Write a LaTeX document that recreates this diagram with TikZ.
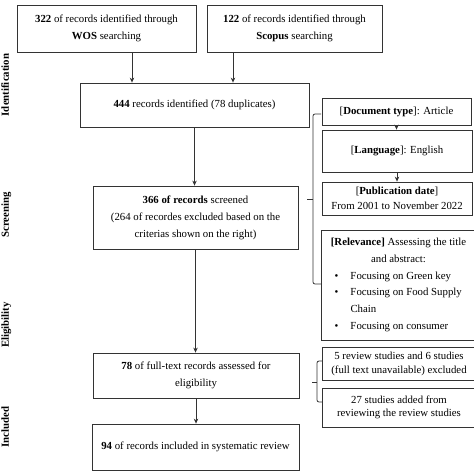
\documentclass[tikz,border=0pt]{standalone}
\usepackage{fontspec}
\setmainfont{Liberation Serif}
\usetikzlibrary{arrows.meta}
\tikzset{
  x=1pt, y=-1pt,
  ln/.style={draw=black!80, line width=0.8pt},
  box/.style={ln, rectangle, inner sep=0pt, align=center, font=\fontsize{10.8}{17}\selectfont},
  arr/.style={ln, -{Stealth[length=5pt,width=4.5pt]}},
  brk/.style={ln, rounded corners=2pt},
  phase/.style={font=\fontsize{10.8}{13}\selectfont\bfseries, rotate=90, anchor=base, inner sep=0pt}
}
\newcommand{\bitem}[1]{\par\hangindent=27pt\hangafter=0\noindent\llap{\makebox[16pt][l]{\textbullet}}#1}
\begin{document}
\begin{tikzpicture}
\useasboundingbox (0,0) rectangle (474,474);
\clip (0,0) rectangle (474,474);
% phase labels
\node[phase] (pi) at (9,85) {Identification};
\node[phase] (ps) at (9,215) {Screening};
\node[phase] (pe) at (9,325) {Eligibility};
\node[phase] (pn) at (9,427) {Included};
% main column
\node[box, minimum width=179pt, minimum height=47pt] (wos) at (106.5,28.5)
  {\textbf{322} of records identified through\\\textbf{WOS} searching};
\node[box, minimum width=175pt, minimum height=47pt] (sco) at (294.5,28.5)
  {\textbf{122} of records identified through\\\textbf{Scopus} searching};
\node[box, minimum width=229pt, minimum height=44pt] (idf) at (194.5,105)
  {\textbf{444} records identified (78 duplicates)};
\node[box, minimum width=205pt, minimum height=63pt] (scr) at (195.5,217.5)
  {\textbf{366 of records} screened\\(264 of recordes excluded based on the\\criterias shown on the right)};
\node[box, minimum width=206pt, minimum height=45pt] (elg) at (196,375.5)
  {\textbf{78} of full-text records assessed for\\eligibility};
\node[box, minimum width=207pt, minimum height=46pt] (inc) at (195.5,447)
  {\textbf{94} of records included in systematic review};
% right column
\node[box, minimum width=149pt, minimum height=27pt] (doc) at (396.5,111.5)
  {[\textbf{Document type}]: Article};
\node[box, minimum width=150pt, minimum height=42pt] (lan) at (397,151)
  {[\textbf{Language}]: English};
\node[box, minimum width=150pt, minimum height=33pt, font=\fontsize{10.8}{15}\selectfont] (pub) at (397,198.5)
  {[\textbf{Publication date}]\\From 2001 to November 2022};
\node[box, minimum width=155pt, minimum height=110pt, font=\fontsize{10.8}{16.8}\selectfont] (rel) at (398.5,285)
  {\parbox{150pt}{\fontsize{10.8}{16.8}\selectfont
   \centering\textbf{[Relevance]} Assessing the title\\and abstract:\par
   \raggedright
   \bitem{Focusing on Green key}
   \bitem{Focusing on Food Supply Chain}
   \bitem{Focusing on consumer}\par}};
\node[box, minimum width=154pt, minimum height=33pt, font=\fontsize{10.8}{14}\selectfont] (exc) at (399,363.5)
  {5 review studies and 6 studies\\(full text unavailable) excluded};
\node[box, minimum width=154pt, minimum height=39pt, font=\fontsize{10.8}{12.8}\selectfont] (add) at (399,407.5)
  {27 studies added from\\reviewing the review studies};
% arrows
\coordinate (xw) at (132,0);
\coordinate (xs) at (233,0);
\draw[arr] (wos.south -| xw) -- (idf.north -| xw);
\draw[arr] (sco.south -| xs) -- (idf.north -| xs);
\draw[arr] (idf.south) -- (idf.south |- scr.north);
\draw[arr] (scr.south) -- (scr.south |- elg.north);
\draw[arr] (elg.south) -- (elg.south |- inc.north);
\draw[arr] (doc.south) -- (doc.south |- lan.north);
\draw[arr] (lan.south) -- (lan.south |- pub.north);
% brackets
\draw[brk] (321,114) -- (313,114) -- (313,284) -- (321,284);
\draw[ln] (313,199) -- (307,199);
\draw[brk] (322,361) -- (317,361) -- (317,402) -- (322,402);
\draw[ln] (317,382) -- (312,382);
\end{tikzpicture}
\end{document}
